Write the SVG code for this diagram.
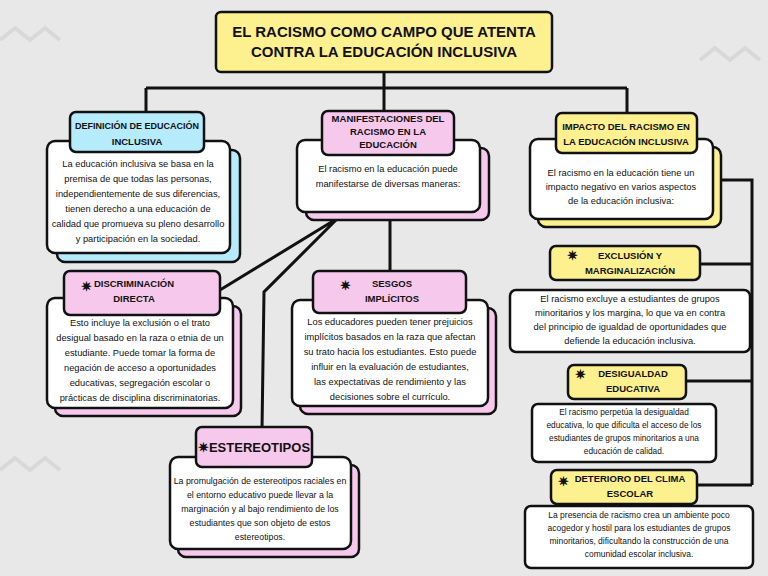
<svg xmlns="http://www.w3.org/2000/svg" width="768" height="576" viewBox="0 0 768 576">
<style>
.h{stroke:#111;stroke-width:2.5}
.b{fill:#fff;stroke:#111;stroke-width:2.5}
.s{stroke:#111;stroke-width:2.5}
.y{fill:#fdf08f}.bl{fill:#b5ebfb}.p{fill:#f6c9ec}
text{font-family:"Liberation Sans",Arial,sans-serif;fill:#111;text-anchor:middle}
.t{font-size:15px;font-weight:bold}
.hd{font-size:9.5px;font-weight:bold}
.tx{font-size:9.3px}
.c{fill:none;stroke:#111;stroke-width:3}
</style>
<rect width="768" height="576" fill="#e9e8e8"/>
<g fill="none" stroke="#d9d8d8" stroke-width="4">
<path d="M0 40 l15 -12 l15 12 l15 -12 l15 12"/>
<path d="M700 60 l15 -12 l15 12 l15 -12 l15 12"/>
<path d="M0 470 l15 -12 l15 12 l15 -12 l15 12"/>
</g>
<g id="connectors" class="c">
<path d="M384 72 V88 M146 88 H627 M146 88 V112 M384 88 V112 M627 88 V113"/>
<path d="M713 180 H752 V485 M700 264 H752 M686 381 H752 M697 485 H752"/>
<path d="M338 218 L220 290 M338 218 L264 292 L262 430 M390 212 V272"/>
</g>
<g id="title"><rect x="216" y="12" width="336" height="60" rx="5" class="h y"/>
<text class="t" x="384" y="37">EL RACISMO COMO CAMPO QUE ATENTA</text>
<text class="t" x="384" y="57">CONTRA LA EDUCACIÓN INCLUSIVA</text></g>
<g id="definicion">
<rect x="57" y="150" width="183" height="112" rx="8" class="s bl"/>
<rect x="47" y="141" width="183" height="112" rx="8" class="b"/>
<rect x="70" y="112" width="134" height="40" rx="6" class="h bl"/>
<text class="hd" x="137" y="129" style="font-size:9px">DEFINICIÓN DE EDUCACIÓN</text><text class="hd" x="137" y="145">INCLUSIVA</text>
<text class="tx" x="138" y="167">La educación inclusiva se basa en la</text>
<text class="tx" x="138" y="182">premisa de que todas las personas,</text>
<text class="tx" x="138" y="197">independientemente de sus diferencias,</text>
<text class="tx" x="138" y="212">tienen derecho a una educación de</text>
<text class="tx" x="138" y="227">calidad que promueva su pleno desarrollo</text>
<text class="tx" x="138" y="242">y participación en la sociedad.</text></g>
<g id="manifestaciones">
<rect x="306" y="148" width="183" height="72" rx="8" class="s p"/>
<rect x="297" y="140" width="183" height="72" rx="8" class="b"/>
<rect x="322" y="111" width="132" height="44" rx="6" class="h p"/>
<text class="hd" x="388" y="122">MANIFESTACIONES DEL</text><text class="hd" x="388" y="135">RACISMO EN LA</text><text class="hd" x="388" y="148">EDUCACIÓN</text>
<text class="tx" x="388" y="172">El racismo en la educación puede</text>
<text class="tx" x="388" y="187">manifestarse de diversas maneras:</text></g>
<g id="impacto">
<rect x="538" y="147" width="183" height="80" rx="8" class="s y"/>
<rect x="530" y="139" width="183" height="80" rx="8" class="b"/>
<rect x="556" y="113" width="141" height="40" rx="6" class="h y"/>
<text class="hd" x="626" y="130">IMPACTO DEL RACISMO EN</text><text class="hd" x="626" y="145">LA EDUCACIÓN INCLUSIVA</text>
<text class="tx" x="621" y="176">El racismo en la educación tiene un</text>
<text class="tx" x="621" y="190">impacto negativo en varios aspectos</text>
<text class="tx" x="621" y="204">de la educación inclusiva:</text></g>
<g id="exclusion">
<rect x="510" y="290" width="240" height="62" rx="6" class="b"/>
<rect x="550" y="246" width="150" height="34" rx="6" class="h y"/>
<text class="hd" x="572" y="260" style="font-size:13px">✷</text>
<text class="hd" x="630" y="259">EXCLUSIÓN Y</text><text class="hd" x="630" y="274">MARGINALIZACIÓN</text>
<text class="tx" x="630" y="302">El racismo excluye a estudiantes de grupos</text>
<text class="tx" x="630" y="316">minoritarios y los margina, lo que va en contra</text>
<text class="tx" x="630" y="330">del principio de igualdad de oportunidades que</text>
<text class="tx" x="630" y="344">defiende la educación inclusiva.</text></g>
<g id="desigualdad">
<rect x="532" y="404" width="184" height="58" rx="6" class="b"/>
<rect x="568" y="365" width="118" height="34" rx="6" class="h y"/>
<text class="hd" x="580" y="379" style="font-size:13px">✷</text>
<text class="hd" x="633" y="377">DESIGUALDAD</text><text class="hd" x="633" y="392">EDUCATIVA</text>
<text class="tx" x="624" y="415" style="font-size:8.3px">El racismo perpetúa la desigualdad</text>
<text class="tx" x="624" y="428" style="font-size:8.3px">educativa, lo que dificulta el acceso de los</text>
<text class="tx" x="624" y="441" style="font-size:8.3px">estudiantes de grupos minoritarios a una</text>
<text class="tx" x="624" y="454" style="font-size:8.3px">educación de calidad.</text></g>
<g id="deterioro">
<rect x="525" y="506" width="228" height="62" rx="6" class="b"/>
<rect x="551" y="470" width="146" height="34" rx="6" class="h y"/>
<text class="hd" x="563" y="486" style="font-size:13px">✷</text>
<text class="hd" x="630" y="482">DETERIORO DEL CLIMA</text><text class="hd" x="630" y="497">ESCOLAR</text>
<text class="tx" x="639" y="518" style="font-size:8.5px">La presencia de racismo crea un ambiente poco</text>
<text class="tx" x="639" y="531" style="font-size:8.5px">acogedor y hostil para los estudiantes de grupos</text>
<text class="tx" x="639" y="544" style="font-size:8.5px">minoritarios, dificultando la construcción de una</text>
<text class="tx" x="639" y="557" style="font-size:8.5px">comunidad escolar inclusiva.</text></g>
<g id="discriminacion">
<rect x="55" y="306" width="186" height="110" rx="8" class="s p"/>
<rect x="47" y="298" width="186" height="110" rx="8" class="b"/>
<rect x="64" y="271" width="156" height="44" rx="6" class="h p"/>
<text class="hd" x="86" y="291" style="font-size:13px">✷</text>
<text class="hd" x="134" y="287">DISCRIMINACIÓN</text><text class="hd" x="134" y="302">DIRECTA</text>
<text class="tx" x="140" y="326">Esto incluye la exclusión o el trato</text>
<text class="tx" x="140" y="341">desigual basado en la raza o etnia de un</text>
<text class="tx" x="140" y="356">estudiante. Puede tomar la forma de</text>
<text class="tx" x="140" y="371">negación de acceso a oportunidades</text>
<text class="tx" x="140" y="386">educativas, segregación escolar o</text>
<text class="tx" x="140" y="401">prácticas de disciplina discriminatorias.</text></g>
<g id="sesgos">
<rect x="300" y="308" width="196" height="106" rx="8" class="s p"/>
<rect x="292" y="300" width="196" height="106" rx="8" class="b"/>
<rect x="313" y="271" width="153" height="42" rx="6" class="h p"/>
<text class="hd" x="345" y="290" style="font-size:13px">✷</text>
<text class="hd" x="392" y="287">SESGOS</text><text class="hd" x="392" y="302">IMPLÍCITOS</text>
<text class="tx" x="390" y="325">Los educadores pueden tener prejuicios</text>
<text class="tx" x="390" y="340">implícitos basados en la raza que afectan</text>
<text class="tx" x="390" y="355">su trato hacia los estudiantes. Esto puede</text>
<text class="tx" x="390" y="370">influir en la evaluación de estudiantes,</text>
<text class="tx" x="390" y="385">las expectativas de rendimiento y las</text>
<text class="tx" x="390" y="400">decisiones sobre el currículo.</text></g>
<g id="estereotipos">
<rect x="178" y="465" width="181" height="92" rx="8" class="s p"/>
<rect x="170" y="457" width="181" height="92" rx="8" class="b"/>
<rect x="196" y="427" width="116" height="40" rx="6" class="h p"/>
<text x="254" y="452" style="font-size:13px;font-weight:bold">✷ESTEREOTIPOS</text>
<text class="tx" x="260" y="484" style="font-size:8.8px">La promulgación de estereotipos raciales en</text>
<text class="tx" x="260" y="498" style="font-size:8.8px">el entorno educativo puede llevar a la</text>
<text class="tx" x="260" y="512" style="font-size:8.8px">marginación y al bajo rendimiento de los</text>
<text class="tx" x="260" y="526" style="font-size:8.8px">estudiantes que son objeto de estos</text>
<text class="tx" x="260" y="540" style="font-size:8.8px">estereotipos.</text></g>
</svg>
